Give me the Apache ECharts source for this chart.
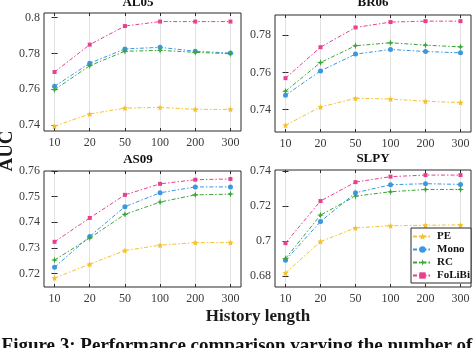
<!DOCTYPE html>
<html>
<head>
<meta charset="utf-8">
<script src="https://cdn.jsdelivr.net/npm/echarts@6/dist/echarts.min.js"></script>
<style>
  html, body { margin: 0; padding: 0; background: #fff; }
  #chart { width: 474px; height: 348px; }
</style>
</head>
<body>
<div id="chart"></div>
<script>
// History length categories shared by all four panels
const historyLength = ['10', '20', '50', '100', '200', '300'];
const methods = ['PE', 'Mono', 'RC', 'FoLiBi'];

// AUC per dataset and method
const al05PE     = [0.7393, 0.7461, 0.7494, 0.7498, 0.7487, 0.7487];
const al05Mono   = [0.7616, 0.7745, 0.7825, 0.7834, 0.7812, 0.7802];
const al05RC     = [0.7597, 0.7731, 0.7812, 0.7817, 0.7806, 0.7798];
const al05FoLiBi = [0.7696, 0.7849, 0.7953, 0.7978, 0.7978, 0.7978];

const br06PE     = [0.7316, 0.7414, 0.7461, 0.7457, 0.7445, 0.7438];
const br06Mono   = [0.7477, 0.7608, 0.7698, 0.7723, 0.7712, 0.7705];
const br06RC     = [0.7499, 0.7653, 0.7743, 0.7759, 0.7746, 0.7737];
const br06FoLiBi = [0.7569, 0.7735, 0.7841, 0.7870, 0.7875, 0.7875];

const as09PE     = [0.7183, 0.7237, 0.7290, 0.7311, 0.7321, 0.7321];
const as09Mono   = [0.7225, 0.7345, 0.7461, 0.7515, 0.7538, 0.7538];
const as09RC     = [0.7253, 0.7339, 0.7431, 0.7479, 0.7507, 0.7510];
const as09FoLiBi = [0.7324, 0.7417, 0.7507, 0.7550, 0.7566, 0.7569];

const slpyPE     = [0.6819, 0.6998, 0.7076, 0.7088, 0.7091, 0.7093];
const slpyMono   = [0.6891, 0.7112, 0.7276, 0.7322, 0.7328, 0.7324];
const slpyRC     = [0.6901, 0.7149, 0.7257, 0.7282, 0.7295, 0.7295];
const slpyFoLiBi = [0.6989, 0.7229, 0.7337, 0.7368, 0.7377, 0.7377];

// Y tick labels per panel
const al05Ticks = [0.74, 0.76, 0.78, 0.80];
const br06Ticks = [0.74, 0.76, 0.78];
const as09Ticks = [0.72, 0.73, 0.74, 0.75, 0.76];
const slpyTicks = [0.68, 0.70, 0.72, 0.74];

const panels = [
  { name: 'AL05', series: [al05PE, al05Mono, al05RC, al05FoLiBi], ticks: al05Ticks,
    grid: { left: 44, top: 13, width: 197, height: 118 }, yMin: 0.7366, yMax: 0.8026, titleX: 138, titleY: 9.5 },
  { name: 'BR06', series: [br06PE, br06Mono, br06RC, br06FoLiBi], ticks: br06Ticks,
    grid: { left: 275, top: 15, width: 196, height: 117 }, yMin: 0.7280, yMax: 0.7908, titleX: 373, titleY: 9 },
  { name: 'AS09', series: [as09PE, as09Mono, as09RC, as09FoLiBi], ticks: as09Ticks,
    grid: { left: 44, top: 171, width: 197, height: 116 }, yMin: 0.7148, yMax: 0.7600, titleX: 138, titleY: 166.5 },
  { name: 'SLPY', series: [slpyPE, slpyMono, slpyRC, slpyFoLiBi], ticks: slpyTicks,
    grid: { left: 275, top: 170, width: 196, height: 117 }, yMin: 0.6739, yMax: 0.7406, titleX: 373, titleY: 165.5 }
];

const colors = ['#f4c22e', '#3a97e2', '#3aa637', '#e6418f'];
const star5 = 'path://M0,-10 L2.9,-4 L9.5,-3.1 L4.7,1.5 L5.9,8.1 L0,5 L-5.9,8.1 L-4.7,1.5 L-9.5,-3.1 L-2.9,-4 Z';
const star4 = 'path://M0,-10 L2.5,-2.5 L10,0 L2.5,2.5 L0,10 L-2.5,2.5 L-10,0 L-2.5,-2.5 Z';
const symbols = [star5, 'circle', star4, 'rect'];
const symbolSizes = [6, 5, 7, 4];
const serif = '"Liberation Serif", "DejaVu Serif", serif';
const tickIdx = historyLength.map((_, i) => i);

const grids = [], xAxes = [], yAxes = [], series = [], graphics = [];

panels.forEach((p, pi) => {
  grids.push(Object.assign({ show: true, borderColor: '#2b2b2b', borderWidth: 1, backgroundColor: '#fff' }, p.grid));
  const xBase = {
    type: 'value', gridIndex: pi, min: -0.3, max: 5.3,
    axisLine: { show: false },
    axisTick: { show: true, inside: true, length: 3, customValues: tickIdx, lineStyle: { color: '#2b2b2b' } }
  };
  xAxes.push(Object.assign({}, xBase, {
    position: 'bottom',
    axisLabel: { customValues: tickIdx, margin: 6, fontFamily: serif, fontSize: 12, color: '#3a3a3a',
      formatter: v => historyLength[Math.round(v)] },
    splitLine: { show: true, lineStyle: { color: '#e2e2e2', width: 1 } }
  }));
  xAxes.push(Object.assign({}, xBase, {
    position: 'top', axisLabel: { show: false }, splitLine: { show: false }
  }));
  const yBase = {
    type: 'value', gridIndex: pi, min: p.yMin, max: p.yMax,
    axisLine: { show: false }, splitLine: { show: false },
    axisTick: { show: true, inside: true, length: 3, customValues: p.ticks, lineStyle: { color: '#2b2b2b' } }
  };
  yAxes.push(Object.assign({}, yBase, {
    position: 'left',
    axisLabel: { customValues: p.ticks, margin: 4, fontFamily: serif, fontSize: 12, color: '#3a3a3a',
      formatter: v => String(parseFloat(v.toFixed(3))) }
  }));
  yAxes.push(Object.assign({}, yBase, { position: 'right', axisLabel: { show: false } }));

  p.series.forEach((vals, mi) => {
    series.push({
      type: 'line', name: methods[mi],
      xAxisIndex: pi * 2, yAxisIndex: pi * 2,
      data: vals.map((v, i) => [i, v]),
      symbol: symbols[mi], symbolSize: symbolSizes[mi], showSymbol: true,
      itemStyle: { color: colors[mi] },
      lineStyle: { color: colors[mi], width: 1, type: [4, 2, 1.5, 2] },
      z: 2 + mi, animation: false
    });
  });

  graphics.push({
    type: 'text', x: p.titleX, y: p.titleY,
    style: { text: p.name, font: 'bold 13px ' + serif, fill: '#111', align: 'center', verticalAlign: 'bottom' }
  });
});

graphics.push({
  type: 'text', x: 7, y: 151, rotation: Math.PI / 2,
  style: { text: 'AUC', font: 'bold 19px ' + serif, fill: '#1a1a1a', align: 'center', verticalAlign: 'middle' }
});
graphics.push({
  type: 'text', x: 258, y: 317,
  style: { text: 'History length', font: 'bold 17px ' + serif, fill: '#1a1a1a', align: 'center', verticalAlign: 'middle' }
});
graphics.push({
  type: 'text', x: 237, y: 337,
  style: { text: 'Figure 3: Performance comparison varying the number of', font: 'bold 19px ' + serif,
    fill: '#111', align: 'center', verticalAlign: 'top' }
});

const chart = echarts.init(document.getElementById('chart'), null, { renderer: 'canvas' });
chart.setOption({
  animation: false,
  backgroundColor: '#fff',
  grid: grids,
  xAxis: xAxes,
  yAxis: yAxes,
  legend: {
    data: methods, orient: 'vertical', left: 411, top: 228,
    padding: [3, 1, 2, 1], itemWidth: 19, itemHeight: 8, itemGap: 2,
    backgroundColor: '#fff', borderColor: '#2b2b2b', borderWidth: 1,
    textStyle: { fontFamily: serif, fontWeight: 'bold', fontSize: 11, color: '#111' },
    selectedMode: false
  },
  series: series,
  graphic: graphics
});
</script>
</body>
</html>
